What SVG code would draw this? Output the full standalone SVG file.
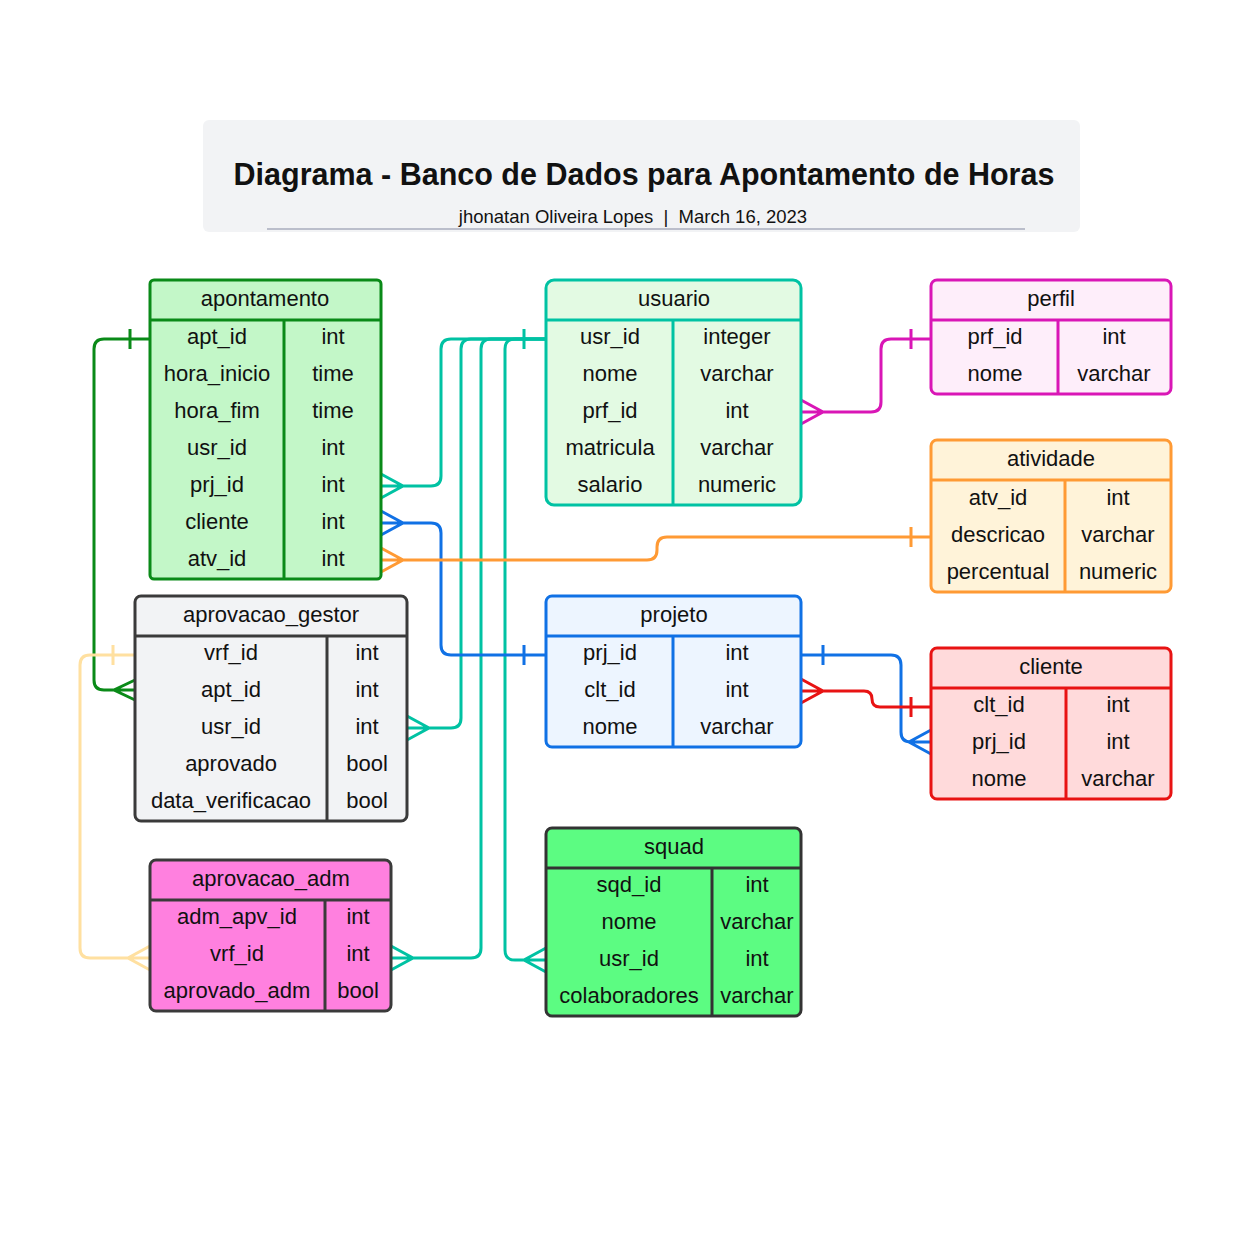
<svg xmlns="http://www.w3.org/2000/svg" width="1259" height="1259" viewBox="0 0 1259 1259">
<style>
text{font-family:"Liberation Sans",Arial,sans-serif;font-size:22px;fill:#111;text-anchor:middle;dominant-baseline:central}
.box{stroke-width:3}
.ln{fill:none;stroke-width:3}
.c{fill:none;stroke-width:3}
</style>
<rect width="1259" height="1259" fill="#fff"/>
<g id="title">
<rect x="203" y="120" width="877" height="112" rx="6" fill="#f2f3f5"/>
<text x="644" y="174" style="font-size:30.5px;font-weight:bold">Diagrama - Banco de Dados para Apontamento de Horas</text>
<text x="633" y="216" style="font-size:18.5px;white-space:pre" xml:space="preserve">jhonatan Oliveira Lopes  |  March 16, 2023</text>
<line x1="267" y1="229" x2="1025" y2="229" stroke="#a8acbc" stroke-width="1.5"/>
</g>
<g id="connectors">
<path class="c" stroke="#0a8a18" d="M150 339H104Q94 339 94 349V680Q94 690 104 690H135M130 329V349M135 680L114 690L135 700M114 690H135"/>
<path class="c" stroke="#00c2a3" d="M546 339H451Q441 339 441 349V476Q441 486 431 486H381M524 329V349M381 474L403 486L381 498"/>
<path class="c" stroke="#00c2a3" d="M546 339H471Q461 339 461 349V718Q461 728 451 728H407M407 716L429 728L407 740"/>
<path class="c" stroke="#00c2a3" d="M546 339H491Q481 339 481 349V948Q481 958 471 958H391M391 946L413 958L391 970"/>
<path class="c" stroke="#00c2a3" d="M546 339H515Q505 339 505 349V950Q505 960 515 960H546M546 948L524 960L546 972"/>
<path class="c" stroke="#1071e5" d="M546 655H451Q441 655 441 645V533Q441 523 431 523H381M524 645V665M381 511L403 523L381 535"/>
<path class="c" stroke="#ff9a34" d="M931 537H667Q657 537 657 547V550Q657 560 647 560H381M911 527V547M381 548L403 560L381 572"/>
<path class="c" stroke="#1071e5" d="M801 655H891Q901 655 901 665V732Q901 742 911 742H931M823 645V665M931 730L909 742L931 754"/>
<path class="c" stroke="#e81313" d="M931 707H880Q872 707 872 699Q872 691 864 691H801M911 697V717M801 679L823 691L801 703"/>
<path class="c" stroke="#d916b6" d="M931 339H891Q881 339 881 349V402Q881 412 871 412H801M911 329V349M801 400L823 412L801 424"/>
<path class="c" stroke="#ffe0a0" d="M135 655H90Q80 655 80 665V948Q80 958 90 958H150M113 645V665M150 946L128 958L150 970"/>
</g>
<g id="apontamento">
<rect class="box" x="150" y="280" width="231" height="299" rx="4" fill="#c3f7c8" stroke="#0a8a18"/>
<path class="ln" stroke="#0a8a18" d="M150 320H381M284 320V579"/>
<text x="265" y="298">apontamento</text>
<text x="217" y="336">apt_id</text><text x="333" y="336">int</text>
<text x="217" y="373">hora_inicio</text><text x="333" y="373">time</text>
<text x="217" y="410">hora_fim</text><text x="333" y="410">time</text>
<text x="217" y="447">usr_id</text><text x="333" y="447">int</text>
<text x="217" y="484">prj_id</text><text x="333" y="484">int</text>
<text x="217" y="521">cliente</text><text x="333" y="521">int</text>
<text x="217" y="558">atv_id</text><text x="333" y="558">int</text>
</g>
<g id="usuario">
<rect class="box" x="546" y="280" width="255" height="225" rx="8" fill="#e3fae3" stroke="#00c2a3"/>
<path class="ln" stroke="#00c2a3" d="M546 320H801M673 320V505"/>
<text x="674" y="298">usuario</text>
<text x="610" y="336">usr_id</text><text x="737" y="336">integer</text>
<text x="610" y="373">nome</text><text x="737" y="373">varchar</text>
<text x="610" y="410">prf_id</text><text x="737" y="410">int</text>
<text x="610" y="447">matricula</text><text x="737" y="447">varchar</text>
<text x="610" y="484">salario</text><text x="737" y="484">numeric</text>
</g>
<g id="perfil">
<rect class="box" x="931" y="280" width="240" height="114" rx="6" fill="#feeefa" stroke="#d916b6"/>
<path class="ln" stroke="#d916b6" d="M931 320H1171M1058 320V394"/>
<text x="1051" y="298">perfil</text>
<text x="995" y="336">prf_id</text><text x="1114" y="336">int</text>
<text x="995" y="373">nome</text><text x="1114" y="373">varchar</text>
</g>
<g id="atividade">
<rect class="box" x="931" y="440" width="240" height="152" rx="6" fill="#fff3d9" stroke="#ff9a34"/>
<path class="ln" stroke="#ff9a34" d="M931 480H1171M1065 480V592"/>
<text x="1051" y="458">atividade</text>
<text x="998" y="497">atv_id</text><text x="1118" y="497">int</text>
<text x="998" y="534">descricao</text><text x="1118" y="534">varchar</text>
<text x="998" y="571">percentual</text><text x="1118" y="571">numeric</text>
</g>
<g id="aprovacao_gestor">
<rect class="box" x="135" y="596" width="272" height="225" rx="6" fill="#f2f3f5" stroke="#3a3a3a"/>
<path class="ln" stroke="#3a3a3a" d="M135 636H407M327 636V821"/>
<text x="271" y="614">aprovacao_gestor</text>
<text x="231" y="652">vrf_id</text><text x="367" y="652">int</text>
<text x="231" y="689">apt_id</text><text x="367" y="689">int</text>
<text x="231" y="726">usr_id</text><text x="367" y="726">int</text>
<text x="231" y="763">aprovado</text><text x="367" y="763">bool</text>
<text x="231" y="800">data_verificacao</text><text x="367" y="800">bool</text>
</g>
<g id="projeto">
<rect class="box" x="546" y="596" width="255" height="151" rx="6" fill="#edf5ff" stroke="#1071e5"/>
<path class="ln" stroke="#1071e5" d="M546 636H801M673 636V747"/>
<text x="674" y="614">projeto</text>
<text x="610" y="652">prj_id</text><text x="737" y="652">int</text>
<text x="610" y="689">clt_id</text><text x="737" y="689">int</text>
<text x="610" y="726">nome</text><text x="737" y="726">varchar</text>
</g>
<g id="cliente">
<rect class="box" x="931" y="648" width="240" height="151" rx="6" fill="#ffdadb" stroke="#e81313"/>
<path class="ln" stroke="#e81313" d="M931 688H1171M1066 688V799"/>
<text x="1051" y="666">cliente</text>
<text x="999" y="704">clt_id</text><text x="1118" y="704">int</text>
<text x="999" y="741">prj_id</text><text x="1118" y="741">int</text>
<text x="999" y="778">nome</text><text x="1118" y="778">varchar</text>
</g>
<g id="aprovacao_adm">
<rect class="box" x="150" y="860" width="241" height="151" rx="6" fill="#ff80df" stroke="#3a3a3a"/>
<path class="ln" stroke="#3a3a3a" d="M150 900H391M325 900V1011"/>
<text x="271" y="878">aprovacao_adm</text>
<text x="237" y="916">adm_apv_id</text><text x="358" y="916">int</text>
<text x="237" y="953">vrf_id</text><text x="358" y="953">int</text>
<text x="237" y="990">aprovado_adm</text><text x="358" y="990">bool</text>
</g>
<g id="squad">
<rect class="box" x="546" y="828" width="255" height="188" rx="6" fill="#5cfc82" stroke="#333"/>
<path class="ln" stroke="#333" d="M546 868H801M712 868V1016"/>
<text x="674" y="846">squad</text>
<text x="629" y="884">sqd_id</text><text x="757" y="884">int</text>
<text x="629" y="921">nome</text><text x="757" y="921">varchar</text>
<text x="629" y="958">usr_id</text><text x="757" y="958">int</text>
<text x="629" y="995">colaboradores</text><text x="757" y="995">varchar</text>
</g>
</svg>
